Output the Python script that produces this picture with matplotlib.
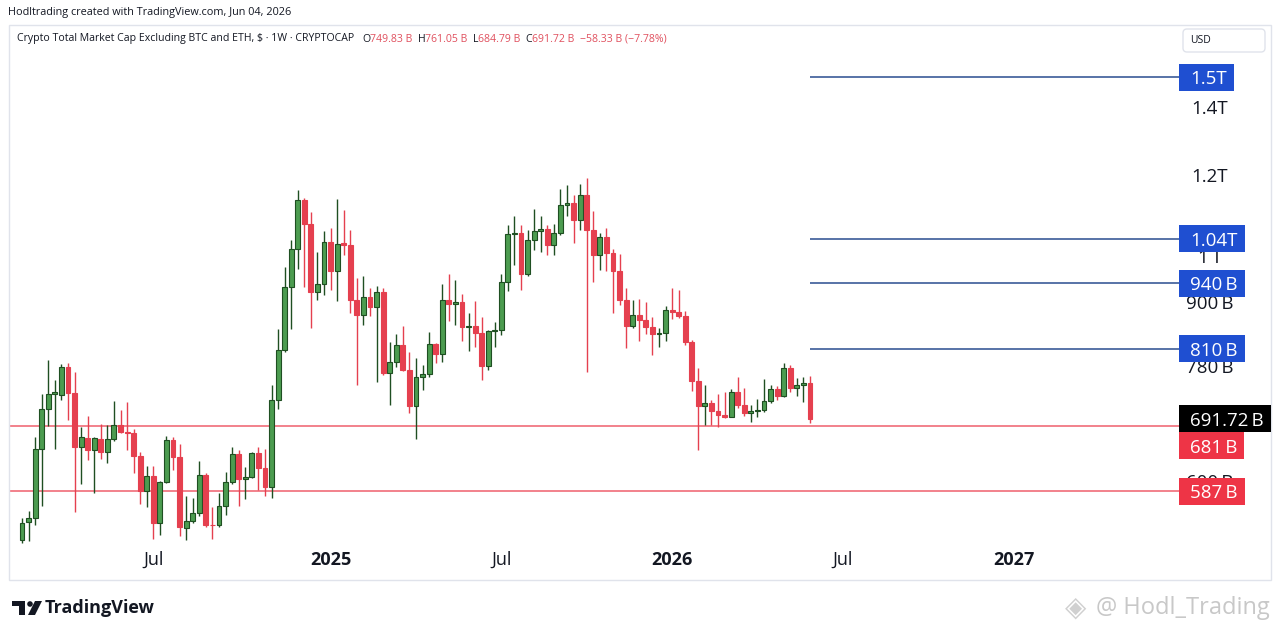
import matplotlib

matplotlib.use("Agg")

import matplotlib.dates as mdates
import matplotlib.pyplot as plt
import numpy as np
import pandas as pd
from matplotlib.patches import Circle, FancyBboxPatch, Polygon, Rectangle
from matplotlib.ticker import NullLocator
from matplotlib.transforms import IdentityTransform

plt.rcParams["font.family"] = ["Open Sans", "DejaVu Sans"]

# CRYPTOCAP:TOTAL3 weekly candles (billions USD), first bar = week of 2024-02-12
first_week = "2024-02-12"
opens = [
    525, 547, 552, 646, 707, 732, 730, 777, 733, 649, 662, 644, 661, 642, 660, 682,
    671, 670, 636, 587, 607, 546, 599, 659, 634, 540, 548, 559, 609, 544, 544, 568,
    599, 638, 603, 606, 640, 619, 593, 721, 808, 932, 1017, 1135, 1076, 921, 938, 1032,
    966, 1029, 1026, 905, 874, 912, 890, 922, 767, 787, 817, 773, 712, 761, 766, 820,
    801, 905, 897, 900, 852, 854, 840, 780, 843, 845, 942, 1051, 1054, 960, 1038, 1059,
    1063, 1025, 1054, 1123, 1127, 1085, 1148, 1061, 1003, 1045, 1007, 966, 906, 853, 875, 865,
    852, 838, 840, 885, 880, 873, 823, 754, 712, 716, 703, 698, 695, 734, 714, 701,
    704, 706, 720, 739, 728, 775, 742, 746, 749.83,
]
highs = [
    552, 561, 664, 732, 790, 755, 782, 784, 768, 678, 696, 663, 683, 682, 720, 705,
    719, 675, 642, 621, 621, 600, 665, 663, 653, 581, 578, 629, 612, 566, 584, 613,
    649, 644, 620, 642, 648, 646, 746, 848, 975, 1036, 1161, 1140, 1104, 1008, 1057, 1065,
    1137, 1111, 1061, 951, 955, 930, 934, 929, 823, 838, 854, 805, 794, 781, 841, 821,
    938, 960, 948, 917, 879, 903, 871, 845, 862, 960, 1072, 1094, 1072, 1061, 1113, 1094,
    1072, 1076, 1163, 1174, 1148, 1178, 1194, 1106, 1053, 1065, 1017, 1005, 929, 905, 908, 900,
    870, 849, 893, 929, 926, 882, 827, 775, 746, 721, 732, 735, 740, 761, 741, 713,
    724, 756, 746, 744, 784, 781, 759, 760, 761.05,
]
lows = [
    522, 524, 543, 568, 680, 646, 722, 690, 560, 597, 630, 585, 631, 625, 657, 670,
    644, 611, 570, 566, 527, 532, 598, 616, 530, 526, 546, 555, 541, 527, 541, 556,
    597, 568, 576, 605, 588, 580, 578, 707, 805, 848, 971, 933, 849, 906, 915, 926,
    903, 1003, 878, 747, 855, 873, 752, 763, 714, 778, 770, 701, 661, 738, 760, 785,
    787, 863, 855, 825, 806, 814, 755, 772, 814, 836, 924, 979, 926, 955, 1014, 1008,
    1003, 1003, 1049, 1096, 1029, 1061, 769, 943, 969, 966, 878, 894, 811, 850, 825, 838,
    799, 814, 825, 867, 869, 818, 737, 644, 682, 682, 678, 693, 694, 709, 696, 686,
    695, 702, 716, 721, 727, 735, 728, 719, 684.79,
]
closes = [
    546, 552, 646, 707, 732, 735, 777, 733, 649, 663, 644, 662, 641, 660, 682, 671,
    670, 636, 587, 607, 546, 599, 659, 634, 541, 548, 559, 609, 544, 543, 568, 599,
    638, 603, 606, 640, 619, 593, 721, 808, 932, 1017, 1135, 1076, 921, 938, 1032, 966,
    1027, 1025, 905, 874, 912, 890, 922, 767, 787, 817, 773, 712, 761, 766, 820, 801,
    905, 897, 900, 852, 854, 840, 780, 843, 845, 942, 1051, 1054, 960, 1038, 1059, 1063,
    1025, 1054, 1123, 1127, 1085, 1148, 1061, 1003, 1045, 1007, 966, 906, 853, 875, 865, 852,
    838, 840, 885, 880, 873, 823, 754, 712, 716, 703, 698, 695, 734, 714, 701, 704,
    706, 720, 739, 728, 775, 742, 746, 750.05, 691.72,
]

# thin spaces between number and unit, like the TradingView price scale
resistance_levels = [1500, 1040, 940, 810]
resistance_labels = ["1.5T", "1.04T", "940\u2009B", "810\u2009B"]
support_levels = [681, 587]
support_labels = ["681\u2009B", "587\u2009B"]
price_ticks = [1400, 1200, 1000, 900, 780, 600]
price_tick_labels = ["1.4T", "1.2T", "1\u2009T", "900\u2009B", "780\u2009B", "600\u2009B"]
time_ticks = ["2024-07-01", "2025-01-06", "2025-07-07", "2026-01-05", "2026-07-06", "2027-01-04"]
time_labels = ["Jul", "2025", "Jul", "2026", "Jul", "2027"]

W, H = 1280, 636
UP, UP_EDGE = "#4c9c50", "#1f4f22"
DOWN = "#e5404f"
TAG_BLUE, TAG_RED = "#1f4fd1", "#ee3446"
TEXT = "#131722"
SCALE_FS = 13.5
ident = IdentityTransform()

fig = plt.figure(figsize=(W / 100, H / 100), dpi=100)
fig.patch.set_facecolor("white")
renderer = fig.canvas.get_renderer()

# pane frame
fig.add_artist(Rectangle((9, H - 580), 1262, 555, fill=False, edgecolor="#e0e3eb",
                         linewidth=1, transform=ident, zorder=1))

ax = fig.add_axes([10 / W, (H - 545) / H, (1179 - 10) / W, (545 - 25) / H])
ax.patch.set_alpha(0)
for spine in ax.spines.values():
    spine.set_visible(False)

o, h, l, c = (np.array(v, dtype=float) for v in (opens, highs, lows, closes))
x = mdates.date2num(pd.date_range(first_week, periods=len(o), freq="W-MON"))
up = c >= o

ax.set_yscale("log")
ax.set_ylim(519.5, 1687.6)
ax.set_xlim(x[0] - 12.8, x[0] + 1233.4)
ax.yaxis.set_major_locator(NullLocator())
ax.yaxis.set_minor_locator(NullLocator())

for lvl in support_levels:
    ax.axhline(lvl, color="#ef5f6c", linewidth=1.1, zorder=1)
for lvl in resistance_levels:
    ax.hlines(lvl, x[-1], ax.get_xlim()[1], color="#2a4d8f", linewidth=1.1, zorder=1)

ax.vlines(x[up], l[up], h[up], color=UP_EDGE, linewidth=1, zorder=2)
ax.vlines(x[~up], l[~up], h[~up], color=DOWN, linewidth=1, zorder=2)
ax.bar(x[up], c[up] - o[up], bottom=o[up], width=5.2, color=UP, edgecolor=UP_EDGE,
       linewidth=0.8, zorder=3)
ax.bar(x[~up], o[~up] - c[~up], bottom=c[~up], width=5.2, color=DOWN, edgecolor=DOWN,
       linewidth=0.8, zorder=3)

ax.set_xticks(mdates.date2num(pd.to_datetime(time_ticks)))
ax.set_xticklabels(time_labels)
ax.tick_params(axis="x", length=0, pad=4.5, labelsize=13, labelcolor=TEXT)
for lab in ax.get_xticklabels():
    if lab.get_text().isdigit():
        lab.set_fontweight("bold")
ax.tick_params(axis="y", length=0, labelleft=False)


def disp_y(value):
    return ax.transData.transform((x[0], value))[1]


# price scale labels
for val, lab in zip(price_ticks, price_tick_labels):
    fig.text(1210, disp_y(val) - 7, lab, ha="center", va="baseline", fontsize=SCALE_FS,
             color=TEXT, transform=ident, zorder=5)


def price_tag(y, label, face):
    t = fig.text(1190, y - 7, label, ha="left", va="baseline", fontsize=SCALE_FS,
                 color="white", transform=ident, zorder=8)
    bb = t.get_window_extent(renderer)
    fig.add_artist(Rectangle((1179, y - 13.5), bb.x1 + 7 - 1179, 27, facecolor=face,
                             edgecolor="none", transform=ident, zorder=7))


for lvl, lab in zip(resistance_levels, resistance_labels):
    price_tag(disp_y(lvl), lab, TAG_BLUE)
close_y = disp_y(c[-1])
price_tag(close_y, f"{c[-1]:.2f}\u2009B", "black")
# the 681 B tag is pushed just below the last-price tag, as in TradingView
price_tag(close_y - 27, support_labels[0], TAG_RED)
price_tag(disp_y(support_levels[1]), support_labels[1], TAG_RED)

# currency button
fig.add_artist(FancyBboxPatch((1183, H - 52), 82, 23, boxstyle="round,pad=0,rounding_size=4",
                              facecolor="white", edgecolor="#e0e3eb", linewidth=1,
                              transform=ident, zorder=4))
fig.text(1190, H - 40.5, "USD", fontsize=7.5, va="center", color=TEXT, transform=ident, zorder=5)

# header lines
fig.text(8, H - 12, "Hodltrading created with TradingView.com, Jun 04, 2026", fontsize=7.85,
         va="center", color=TEXT, transform=ident)

change = c[-1] - c[-2]
pct = change / c[-2] * 100
red_txt = "#e0505e"
pieces = [
    (r"Crypto Total Market Cap Excluding BTC and ETH, \$ · 1W · CRYPTOCAP", TEXT, 8),
    ("O", TEXT, 0), (f"{o[-1]:.2f} B", red_txt, 5),
    ("H", TEXT, 0), (f"{h[-1]:.2f} B", red_txt, 5),
    ("L", TEXT, 0), (f"{l[-1]:.2f} B", red_txt, 5),
    ("C", TEXT, 0), (f"{c[-1]:.2f} B", red_txt, 5),
    (f"\u2212{abs(change):.2f} B (\u2212{abs(pct):.2f}%)", red_txt, 0),
]
cx = 17
for s, col, gap in pieces:
    t = fig.text(cx, H - 39, s, fontsize=7.6, va="center", color=col, transform=ident)
    cx = t.get_window_extent(renderer).x1 + gap

# TradingView logo
logo_y = H - 608
fig.add_artist(Polygon([(12, logo_y + 7), (25, logo_y + 7), (25, logo_y - 7), (19, logo_y - 7),
                        (19, logo_y + 2), (12, logo_y + 2)], closed=True, facecolor=TEXT,
                       edgecolor="none", transform=ident))
fig.add_artist(Circle((30, logo_y + 4), 2.8, facecolor=TEXT, edgecolor="none", transform=ident))
fig.add_artist(Polygon([(28, logo_y - 7), (35, logo_y + 7), (42, logo_y + 7), (35, logo_y - 7)],
                       closed=True, facecolor=TEXT, edgecolor="none", transform=ident))
fig.text(45, logo_y, "TradingView", fontsize=13, fontweight="bold", va="center",
         color=TEXT, transform=ident)

# watermark
fig.text(1076, logo_y, "\u25c8", fontsize=20, va="center", ha="center", color="#d0d0d0",
         family="DejaVu Sans", transform=ident)
fig.text(1270, logo_y, "@ Hodl_Trading", fontsize=17, va="center", ha="right",
         color="#c8c8c8", transform=ident)

fig.savefig("out.png", dpi=100, facecolor="white")
